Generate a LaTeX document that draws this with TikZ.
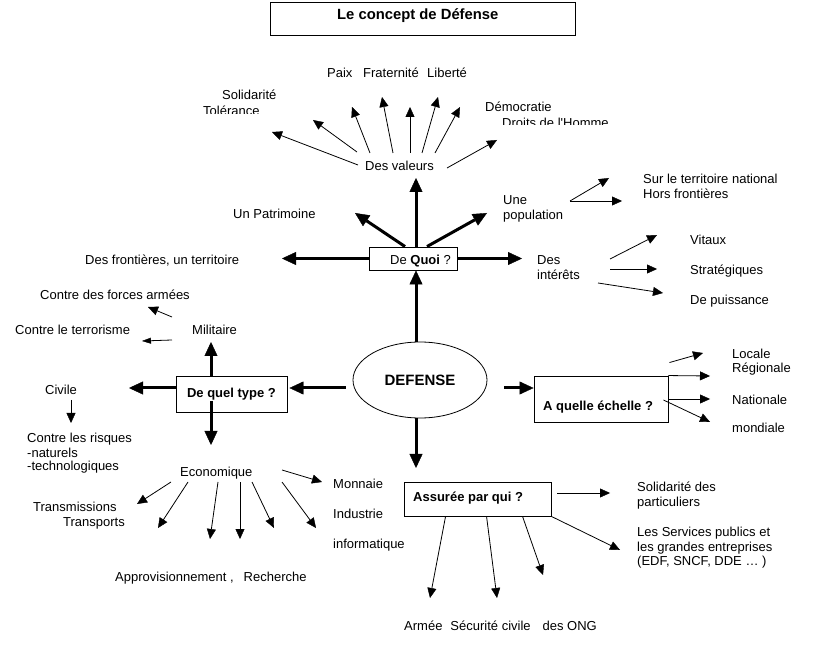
\documentclass[tikz,border=0pt]{standalone}
\usepackage{fontspec}
\setmainfont{Liberation Sans}
\usetikzlibrary{arrows.meta,shapes.geometric,calc}
\begin{document}
\begin{tikzpicture}[x=1pt,y=-1pt,
  txt/.style={inner sep=0pt,anchor=base west,font=\fontsize{13}{15}\selectfont},
  btxt/.style={inner sep=0pt,anchor=base west,font=\fontsize{13}{15}\selectfont\bfseries},
  framebox/.style={draw,line width=0.9pt,inner sep=0pt},
  thinarr/.style={line width=0.8pt,-{Triangle[length=10pt,width=9pt,line width=0.4pt]}},
  smallarr/.style={line width=0.8pt,-{Triangle[length=9pt,width=6pt,line width=0.4pt]}},
  thickarr/.style={line width=3pt,-{Triangle[length=14pt,width=13pt,line width=0.4pt]}},
]
\useasboundingbox (0,0) rectangle (820,652);

% ---------- title
\node[framebox,minimum width=305pt,minimum height=33pt] (titlebox) at (422.5,18.5) {};
\node[inner sep=0pt,anchor=base west,font=\fontsize{14.8}{17}\selectfont\bfseries] (title) at (337,19.5) {Le concept de Défense};

% ---------- values
\node[txt] (paix) at (327,78) {Paix};
\node[txt] (frat) at (363,78) {Fraternité};
\node[txt] (lib) at (427,78) {Liberté};
\node[txt] (solid) at (222,100) {Solidarité};
\begin{scope}
  \clip (195,95) rectangle (300,113.5);
  \node[txt] (tol) at (203,116) {Tolérance};
\end{scope}
\node[txt] (demo) at (485,111.5) {Démocratie};
\begin{scope}
  \clip (495,113) rectangle (620,125);
  \node[txt] (droits) at (502,127.7) {Droits de l\textquotesingle Homme};
\end{scope}
\node[txt] (val) at (365,171) {Des valeurs};
\node[txt] (patr) at (233,219) {Un Patrimoine};
\node[txt] (front) at (85,265) {Des frontières, un territoire};
\node[txt] (une) at (503,205) {Une};
\node[txt] (popu) at (503,219.5) {population};
\node[txt] (sur) at (643,183.3) {Sur le territoire national};
\node[txt] (hors) at (643,198.3) {Hors frontières};
\node[txt] (des) at (537,265) {Des};
\node[txt] (inter) at (537,279.5) {intérêts};
\node[txt] (vit) at (690,245) {Vitaux};
\node[txt] (strat) at (690,274.5) {Stratégiques};
\node[txt] (puis) at (690,304.5) {De puissance};

% ---------- De Quoi
\node[framebox,minimum width=88pt,minimum height=23pt] (dq) at (413,258.5) {};
\node[txt] (dqt) at (390,265) {De \textbf{Quoi} ?};

% ---------- DEFENSE
\node[draw,ellipse,line width=0.8pt,minimum width=134pt,minimum height=76pt,inner sep=0pt,
      font=\fontsize{15}{17}\selectfont\bfseries] (def) at (420,380) {DEFENSE};

% ---------- De quel type
\node[framebox,minimum width=111pt,minimum height=36pt,font=\fontsize{13}{15}\selectfont\bfseries] (dt) at (231.5,394) {De quel type ?};
\node[txt] (fa) at (40,300) {Contre des forces armées};
\node[txt] (terr) at (15,334.5) {Contre le terrorisme};
\node[txt] (mil) at (192,334.5) {Militaire};
\node[txt] (civ) at (45,395) {Civile};
\node[txt] (risq) at (27,442.7) {Contre les risques};
\node[txt] (nat) at (27,457.5) {-naturels};
\node[txt] (techno) at (27,471) {-technologiques};
\node[txt] (eco) at (180,476.5) {Economique};
\node[txt] (trans) at (33,511.5) {Transmissions};
\node[txt] (transp) at (63,526.5) {Transports};
\node[txt] (monn) at (333,488) {Monnaie};
\node[txt] (indu) at (333,518) {Industrie};
\node[txt] (info) at (333,548) {informatique};
\node[txt] (appro) at (115,581) {Approvisionnement ,\hspace{10pt}Recherche};

% ---------- A quelle echelle
\node[framebox,minimum width=134pt,minimum height=46pt] (ae) at (601,399) {};
\node[btxt] (aet) at (543,410) {A quelle échelle ?};
\node[txt] (loc) at (732,359) {Locale};
\node[txt] (reg) at (732,373) {Régionale};
\node[txt] (natio) at (732,405) {Nationale};
\node[txt] (mond) at (732,433) {mondiale};

% ---------- Assuree par qui
\node[framebox,minimum width=147pt,minimum height=34pt] (aq) at (477.5,499) {};
\node[btxt] (aqt) at (413,501) {Assurée par qui ?};
\node[txt] (solp) at (637,491.5) {Solidarité des};
\node[txt] (partic) at (637,506) {particuliers};
\node[txt] (serv) at (637,536.5) {Les Services publics et};
\node[txt] (gran) at (637,551.5) {les grandes entreprises};
\node[txt] (edf) at (637,565.5) {(EDF, SNCF, DDE … )};
\node[txt] (arm) at (404,630) {Armée\hspace{8pt}Sécurité civile\hspace{12pt}des ONG};

% ---------- arrow tips (free ends)
\coordinate (tv1) at (272,132);
\coordinate (tv2) at (313,120);
\coordinate (tv3) at (352,107);
\coordinate (tv4) at (382,97);
\coordinate (tv5) at (410,107);
\coordinate (tv6) at (438,97);
\coordinate (tv7) at (460,107);
\coordinate (tv8) at (497,140);
\coordinate (tq1) at (416,178);
\coordinate (tq2) at (355,213);
\coordinate (tq3) at (487,213);
\coordinate (tq4) at (282,258.5);
\coordinate (tq5) at (522,258.5);
\coordinate (tp1) at (609,178);
\coordinate (tp2) at (622,201);
\coordinate (ti1) at (657,235);
\coordinate (ti2) at (657,269);
\coordinate (ti3) at (663,293);
\coordinate (td) at (416,468);
\coordinate (tt1) at (211,342);
\coordinate (tt2) at (129,388);
\coordinate (tt3) at (211,445);
\coordinate (tm1) at (148,307);
\coordinate (tm2) at (142,341);
\coordinate (tc) at (71,423);
\coordinate (te1) at (137,504);
\coordinate (te2) at (158,528);
\coordinate (te3) at (210,539);
\coordinate (te4) at (240,539);
\coordinate (te5) at (274,528);
\coordinate (te6) at (316,528);
\coordinate (te7) at (322,482);
\coordinate (ta1) at (703,353);
\coordinate (ta2) at (710,376);
\coordinate (ta3) at (710,399);
\coordinate (ta4) at (710,422);
\coordinate (ts1) at (610,493);
\coordinate (ts2) at (620,550);
\coordinate (ts3) at (430,598);
\coordinate (ts4) at (497,598);
\coordinate (ts5) at (543,575);

% ---------- Des valeurs
\draw[thinarr] ($(val.base west)+(-7,-6)$) -- (tv1);
\draw[thinarr] ($(val.base west)+(-8,-19)$) -- (tv2);
\draw[thinarr] ($(val.base west)+(5,-18)$) -- (tv3);
\draw[thinarr] ($(val.base west)+(28,-18)$) -- (tv4);
\draw[thinarr] ($(val.base west)+(45,-18)$) -- (tv5);
\draw[thinarr] ($(val.base west)+(57,-18)$) -- (tv6);
\draw[thinarr] ($(val.base west)+(70,-18)$) -- (tv7);
\draw[thinarr] ($(val.base west)+(82,-3)$) -- (tv8);

% ---------- De Quoi
\draw[thickarr] ([xshift=3pt]dq.north) -- (tq1);
\draw[thickarr] ([xshift=-8pt]dq.north) -- (tq2);
\draw[thickarr] ([xshift=14pt]dq.north) -- (tq3);
\draw[thickarr] (dq.west) -- (tq4);
\draw[thickarr] (dq.east) -- (tq5);

\draw[thinarr] ($(une.base west)+(67,-4)$) -- (tp1);
\draw[thinarr] ($(une.base west)+(67,-4)$) -- (tp2);
\draw[thinarr] ($(des.base west)+(73,-6)$) -- (ti1);
\draw[thinarr] ($(inter.base west)+(73,-10.5)$) -- (ti2);
\draw[thinarr] ($(inter.base west)+(61,3.5)$) -- (ti3);

% ---------- DEFENSE
\draw[thickarr] ([xshift=-4pt]def.north) -- ([xshift=3pt]dq.south);
\draw[thickarr] ([xshift=-4pt]def.south) -- (td);
\draw[thickarr,shorten >=2pt] ($(def.west)+(-7,8)$) -- ([yshift=6pt]dt.east);
\draw[thickarr] ($(def.east)+(17,8)$) -- ([yshift=11pt]ae.west);

% ---------- De quel type
\draw[thickarr] ([xshift=-20.5pt]dt.north) -- (tt1);
\draw[thickarr] ([yshift=6pt]dt.west) -- (tt2);
\draw[thickarr] ($(dt.center)+(-20.5,7)$) -- (tt3);
\draw[thinarr] ($(mil.base west)+(-20,-17.5)$) -- (tm1);
\draw[smallarr] ($(mil.base west)+(-20,5.5)$) -- (tm2);
\draw[thinarr] ($(civ.base west)+(26,5)$) -- (tc);

\draw[thinarr] ($(eco.base west)+(-9,5.5)$) -- (te1);
\draw[thinarr] ($(eco.base west)+(8,5.5)$) -- (te2);
\draw[thinarr] ($(eco.base west)+(38,5.5)$) -- (te3);
\draw[thinarr] ($(eco.base west)+(60,5.5)$) -- (te4);
\draw[thinarr] ($(eco.base west)+(72,5.5)$) -- (te5);
\draw[thinarr] ($(eco.base west)+(102,5.5)$) -- (te6);
\draw[thinarr] ($(eco.base west)+(102,-6.5)$) -- (te7);

% ---------- A quelle echelle
\draw[thinarr] ($(ae.north east)+(1,-13)$) -- (ta1);
\draw[thinarr] (ae.north east) -- (ta2);
\draw[thinarr] (ae.east) -- (ta3);
\draw[thinarr] ($(ae.east)+(-5,1)$) -- (ta4);

% ---------- Assuree par qui
\draw[thinarr] ($(aq.east)+(6,-6)$) -- (ts1);
\draw[thinarr] (aq.south east) -- (ts2);
\draw[thinarr] ($(aq.south west)+(42,0)$) -- (ts3);
\draw[thinarr] ($(aq.south west)+(83,0)$) -- (ts4);
\draw[thinarr] ($(aq.south west)+(119,0)$) -- (ts5);
\end{tikzpicture}
\end{document}
